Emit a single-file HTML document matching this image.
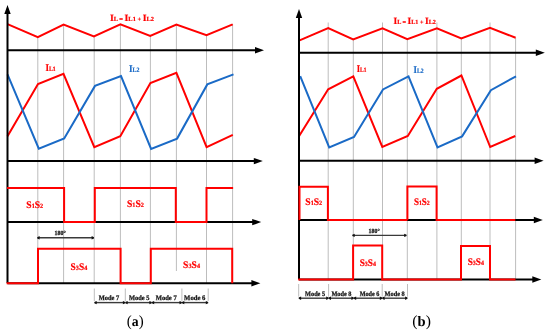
<!DOCTYPE html>
<html><head><meta charset="utf-8"><style>
html,body{margin:0;padding:0;background:#fff;}
svg{display:block;}
text{font-family:"Liberation Serif",serif;font-weight:bold;text-rendering:geometricPrecision;}
</style></head><body>
<svg width="550" height="333" viewBox="0 0 550 333">
<rect width="550" height="333" fill="#fff"/>
<line x1="37.8" y1="37.0" x2="37.8" y2="283" stroke="#bdbdbd" stroke-width="1"/>
<line x1="63.6" y1="24.0" x2="63.6" y2="283" stroke="#bdbdbd" stroke-width="1"/>
<line x1="94.2" y1="36.4" x2="94.2" y2="283" stroke="#bdbdbd" stroke-width="1"/>
<line x1="120.4" y1="24.0" x2="120.4" y2="283" stroke="#bdbdbd" stroke-width="1"/>
<line x1="150.4" y1="36.0" x2="150.4" y2="283" stroke="#bdbdbd" stroke-width="1"/>
<line x1="176.4" y1="24.0" x2="176.4" y2="271" stroke="#bdbdbd" stroke-width="1"/>
<line x1="206.5" y1="35.2" x2="206.5" y2="283" stroke="#bdbdbd" stroke-width="1"/>
<line x1="232.6" y1="24.0" x2="232.6" y2="283" stroke="#bdbdbd" stroke-width="1"/>
<polyline points="7.5,24.1 37.8,37.2 63.6,24.6 93.9,36.4 120.4,24.3 150.2,36.0 176.4,24.5 206.5,35.2 232.7,24.4" fill="none" stroke="#ff0000" stroke-width="2" stroke-linejoin="miter" />
<polyline points="7.5,136.2 38.0,84.0 63.5,73.9 94.3,147.2 120.3,136.2 150.4,83.0 176.4,72.8 206.6,147.2 232.8,134.8" fill="none" stroke="#ff0000" stroke-width="2" stroke-linejoin="miter" />
<polyline points="7.5,74.3 38.8,148.6 64.2,138.4 95.0,85.9 121.0,76.0 151.1,149.0 177.1,138.6 207.3,84.4 233.5,74.4" fill="none" stroke="#1a6ac6" stroke-width="2" stroke-linejoin="miter" />
<line x1="7.5" y1="283.0" x2="7.5" y2="12.9" stroke="#000" stroke-width="2"/><polygon points="4.3,13.9 7.5,4.9 10.7,13.9" fill="#000"/>
<line x1="7.5" y1="50.2" x2="256.0" y2="50.2" stroke="#000" stroke-width="2"/><polygon points="255.0,47.0 264.0,50.2 255.0,53.4" fill="#000"/>
<line x1="7.5" y1="161.1" x2="254.8" y2="161.1" stroke="#000" stroke-width="2"/><polygon points="253.8,157.9 262.8,161.1 253.8,164.3" fill="#000"/>
<line x1="7.5" y1="222.1" x2="253.2" y2="222.1" stroke="#000" stroke-width="2"/><polygon points="252.2,218.9 261.2,222.1 252.2,225.3" fill="#000"/>
<line x1="7.5" y1="283.2" x2="252.4" y2="283.2" stroke="#000" stroke-width="2"/><polygon points="251.4,280.0 260.4,283.2 251.4,286.4" fill="#000"/>
<polyline points="7.0,188.1 64.1,188.1 64.1,222.0 94.8,222.0 94.8,188.1 175.8,188.1 175.8,222.0 206.5,222.0 206.5,188.1 233.1,188.1" fill="none" stroke="#ff0000" stroke-width="2" stroke-linejoin="miter" />
<polyline points="6.6,283.3 38.0,283.3 38.0,248.7 120.6,248.7 120.6,283.3 150.8,283.3 150.8,248.7 232.2,248.7 232.2,283.3" fill="none" stroke="#ff0000" stroke-width="2" stroke-linejoin="miter" />
<text x="109.9" y="20.7" fill="#ff0000" stroke="#ff0000" stroke-width="0.2" font-size="9.5" textLength="44.2" lengthAdjust="spacingAndGlyphs">I<tspan font-size="6.2">L = </tspan>I<tspan font-size="6.2">L1 + </tspan>I<tspan font-size="6.2">L2</tspan></text>
<text x="45.4" y="71.0" fill="#ff0000" stroke="#ff0000" stroke-width="0.2" font-size="10.2" textLength="10.3" lengthAdjust="spacingAndGlyphs">I<tspan font-size="6.6">L1</tspan></text>
<text x="129.0" y="71.5" fill="#1a6ac6" stroke="#1a6ac6" stroke-width="0.2" font-size="10.2" textLength="10.4" lengthAdjust="spacingAndGlyphs">I<tspan font-size="6.6">L2</tspan></text>
<text x="26.3" y="207.5" fill="#ff0000" stroke="#ff0000" stroke-width="0.2" font-size="10" textLength="16.9" lengthAdjust="spacingAndGlyphs">S<tspan font-size="6.5">1</tspan>S<tspan font-size="6.5">2</tspan></text>
<text x="126.9" y="207.0" fill="#ff0000" stroke="#ff0000" stroke-width="0.2" font-size="10" textLength="17.0" lengthAdjust="spacingAndGlyphs">S<tspan font-size="6.5">1</tspan>S<tspan font-size="6.5">2</tspan></text>
<text x="70.6" y="270.0" fill="#ff0000" stroke="#ff0000" stroke-width="0.2" font-size="10" textLength="16.6" lengthAdjust="spacingAndGlyphs">S<tspan font-size="6.5">3</tspan>S<tspan font-size="6.5">4</tspan></text>
<text x="183.1" y="268.0" fill="#ff0000" stroke="#ff0000" stroke-width="0.2" font-size="10" textLength="16.9" lengthAdjust="spacingAndGlyphs">S<tspan font-size="6.5">3</tspan>S<tspan font-size="6.5">4</tspan></text>
<text x="54.6" y="234.9" fill="#111" stroke="#111" stroke-width="0.25" font-size="6.4" textLength="11.2" lengthAdjust="spacingAndGlyphs">180°</text>
<line x1="38.2" y1="237.8" x2="93.0" y2="237.8" stroke="#3a3a3a" stroke-width="1.4"/><polygon points="37.2,237.2 39.6,236.1 39.6,239.5 37.2,238.4" fill="#111"/><polygon points="94.0,237.2 91.6,236.1 91.6,239.5 94.0,238.4" fill="#111"/>
<line x1="94.3" y1="288.5" x2="94.3" y2="301.0" stroke="#bdbdbd" stroke-width="1"/>
<line x1="125.3" y1="288.5" x2="125.3" y2="301.0" stroke="#bdbdbd" stroke-width="1"/>
<line x1="181.9" y1="288.5" x2="181.9" y2="301.0" stroke="#bdbdbd" stroke-width="1"/>
<line x1="208.2" y1="288.5" x2="208.2" y2="301.0" stroke="#bdbdbd" stroke-width="1"/>
<line x1="95.3" y1="302.6" x2="124.3" y2="302.6" stroke="#3a3a3a" stroke-width="1.4"/><polygon points="94.3,302.0 96.7,300.9 96.7,304.3 94.3,303.2" fill="#111"/><polygon points="125.3,302.0 122.9,300.9 122.9,304.3 125.3,303.2" fill="#111"/>
<text x="98.7" y="300.2" fill="#111" stroke="#111" stroke-width="0.25" font-size="6.9" textLength="20.4" lengthAdjust="spacingAndGlyphs">Mode 7</text>
<line x1="126.3" y1="302.6" x2="150.8" y2="302.6" stroke="#3a3a3a" stroke-width="1.4"/><polygon points="125.3,302.0 127.7,300.9 127.7,304.3 125.3,303.2" fill="#111"/><polygon points="151.8,302.0 149.4,300.9 149.4,304.3 151.8,303.2" fill="#111"/>
<text x="128.9" y="300.2" fill="#111" stroke="#111" stroke-width="0.25" font-size="6.9" textLength="20.5" lengthAdjust="spacingAndGlyphs">Mode 5</text>
<line x1="152.8" y1="302.6" x2="180.9" y2="302.6" stroke="#3a3a3a" stroke-width="1.4"/><polygon points="151.8,302.0 154.2,300.9 154.2,304.3 151.8,303.2" fill="#111"/><polygon points="181.9,302.0 179.5,300.9 179.5,304.3 181.9,303.2" fill="#111"/>
<text x="155.7" y="300.2" fill="#111" stroke="#111" stroke-width="0.25" font-size="6.9" textLength="21.0" lengthAdjust="spacingAndGlyphs">Mode 7</text>
<line x1="182.9" y1="302.6" x2="207.2" y2="302.6" stroke="#3a3a3a" stroke-width="1.4"/><polygon points="181.9,302.0 184.3,300.9 184.3,304.3 181.9,303.2" fill="#111"/><polygon points="208.2,302.0 205.8,300.9 205.8,304.3 208.2,303.2" fill="#111"/>
<text x="184.1" y="300.2" fill="#111" stroke="#111" stroke-width="0.25" font-size="6.9" textLength="21.3" lengthAdjust="spacingAndGlyphs">Mode 6</text>
<line x1="328.2" y1="22.5" x2="328.2" y2="279.5" stroke="#bdbdbd" stroke-width="1"/>
<line x1="353.3" y1="39.3" x2="353.3" y2="279.5" stroke="#bdbdbd" stroke-width="1"/>
<line x1="382.5" y1="22.5" x2="382.5" y2="279.5" stroke="#bdbdbd" stroke-width="1"/>
<line x1="407.3" y1="39.1" x2="407.3" y2="279.5" stroke="#bdbdbd" stroke-width="1"/>
<line x1="436.9" y1="22.5" x2="436.9" y2="279.5" stroke="#bdbdbd" stroke-width="1"/>
<line x1="461.3" y1="38.5" x2="461.3" y2="279.5" stroke="#bdbdbd" stroke-width="1"/>
<line x1="490.0" y1="22.5" x2="490.0" y2="279.5" stroke="#bdbdbd" stroke-width="1"/>
<line x1="515.6" y1="37.7" x2="515.6" y2="279.5" stroke="#bdbdbd" stroke-width="1"/>
<polyline points="299.0,40.6 328.2,28.1 353.2,39.5 382.5,28.3 407.3,39.1 436.9,28.3 461.3,38.5 490.0,27.9 515.6,37.7" fill="none" stroke="#ff0000" stroke-width="2" stroke-linejoin="miter" />
<polyline points="299.0,136.2 328.2,89.3 353.3,76.4 382.3,147.0 407.8,136.0 436.8,88.8 461.4,75.5 490.2,147.0 515.3,136.0" fill="none" stroke="#ff0000" stroke-width="2" stroke-linejoin="miter" />
<polyline points="300.2,76.1 329.2,147.4 354.0,137.0 383.0,89.4 408.5,76.4 437.5,147.4 462.1,136.4 490.9,90.2 516.0,76.3" fill="none" stroke="#1a6ac6" stroke-width="2" stroke-linejoin="miter" />
<line x1="299.0" y1="279.2" x2="299.0" y2="17.0" stroke="#000" stroke-width="2"/><polygon points="295.8,18.0 299.0,9.0 302.2,18.0" fill="#000"/>
<line x1="299.0" y1="52.8" x2="536.8" y2="52.8" stroke="#000" stroke-width="2"/><polygon points="535.8,49.6 544.8,52.8 535.8,56.0" fill="#000"/>
<line x1="299.0" y1="160.8" x2="535.6" y2="160.8" stroke="#000" stroke-width="2"/><polygon points="534.6,157.6 543.6,160.8 534.6,164.0" fill="#000"/>
<line x1="299.0" y1="220.0" x2="534.8" y2="220.0" stroke="#000" stroke-width="2"/><polygon points="533.8,216.8 542.8,220.0 533.8,223.2" fill="#000"/>
<line x1="299.0" y1="279.5" x2="533.3" y2="279.5" stroke="#000" stroke-width="2"/><polygon points="532.3,276.3 541.3,279.5 532.3,282.7" fill="#000"/>
<polyline points="299.5,219.9 299.5,186.7 327.9,186.7 327.9,219.9 407.4,219.9" fill="none" stroke="#ff0000" stroke-width="2" stroke-linejoin="miter" />
<polyline points="407.4,219.9 407.4,186.5 436.6,186.5 436.6,219.9 515.3,219.9" fill="none" stroke="#ff0000" stroke-width="2" stroke-linejoin="miter" />
<polyline points="298.2,279.5 353.1,279.5 353.1,245.5 382.2,245.5 382.2,279.5 461.0,279.5 461.0,245.9 490.0,245.9 490.0,279.5 515.5,279.5" fill="none" stroke="#ff0000" stroke-width="2" stroke-linejoin="miter" />
<text x="393.6" y="24.3" fill="#ff0000" stroke="#ff0000" stroke-width="0.2" font-size="9.5" textLength="42.2" lengthAdjust="spacingAndGlyphs">I<tspan font-size="6.2">L = </tspan>I<tspan font-size="6.2">L1 + </tspan>I<tspan font-size="6.2">L2</tspan></text>
<text x="356.8" y="71.6" fill="#ff0000" stroke="#ff0000" stroke-width="0.2" font-size="10.2" textLength="9.7" lengthAdjust="spacingAndGlyphs">I<tspan font-size="6.6">L1</tspan></text>
<text x="413.5" y="73.1" fill="#1a6ac6" stroke="#1a6ac6" stroke-width="0.2" font-size="10.2" textLength="10.0" lengthAdjust="spacingAndGlyphs">I<tspan font-size="6.6">L2</tspan></text>
<text x="305.3" y="205.0" fill="#ff0000" stroke="#ff0000" stroke-width="0.2" font-size="10" textLength="16.9" lengthAdjust="spacingAndGlyphs">S<tspan font-size="6.5">1</tspan>S<tspan font-size="6.5">2</tspan></text>
<text x="413.9" y="205.0" fill="#ff0000" stroke="#ff0000" stroke-width="0.2" font-size="10" textLength="15.9" lengthAdjust="spacingAndGlyphs">S<tspan font-size="6.5">1</tspan>S<tspan font-size="6.5">2</tspan></text>
<text x="359.7" y="266.3" fill="#ff0000" stroke="#ff0000" stroke-width="0.2" font-size="10" textLength="16.3" lengthAdjust="spacingAndGlyphs">S<tspan font-size="6.5">3</tspan>S<tspan font-size="6.5">4</tspan></text>
<text x="467.7" y="265.0" fill="#ff0000" stroke="#ff0000" stroke-width="0.2" font-size="10" textLength="16.3" lengthAdjust="spacingAndGlyphs">S<tspan font-size="6.5">3</tspan>S<tspan font-size="6.5">4</tspan></text>
<text x="368.6" y="232.5" fill="#111" stroke="#111" stroke-width="0.25" font-size="6.4" textLength="11.2" lengthAdjust="spacingAndGlyphs">180°</text>
<line x1="353.3" y1="235.4" x2="405.6" y2="235.4" stroke="#3a3a3a" stroke-width="1.4"/><polygon points="352.3,234.8 354.7,233.7 354.7,237.1 352.3,236.0" fill="#111"/><polygon points="406.6,234.8 404.2,233.7 404.2,237.1 406.6,236.0" fill="#111"/>
<line x1="298.7" y1="284.0" x2="298.7" y2="296.6" stroke="#bdbdbd" stroke-width="1"/>
<line x1="328.6" y1="284.0" x2="328.6" y2="296.6" stroke="#bdbdbd" stroke-width="1"/>
<line x1="382.2" y1="284.0" x2="382.2" y2="296.6" stroke="#bdbdbd" stroke-width="1"/>
<line x1="407.5" y1="284.0" x2="407.5" y2="296.6" stroke="#bdbdbd" stroke-width="1"/>
<line x1="299.7" y1="298.2" x2="327.6" y2="298.2" stroke="#3a3a3a" stroke-width="1.4"/><polygon points="298.7,297.6 301.1,296.5 301.1,299.9 298.7,298.8" fill="#111"/><polygon points="328.6,297.6 326.2,296.5 326.2,299.9 328.6,298.8" fill="#111"/>
<text x="305.1" y="295.7" fill="#111" stroke="#111" stroke-width="0.25" font-size="6.9" textLength="20.0" lengthAdjust="spacingAndGlyphs">Mode 5</text>
<line x1="329.6" y1="298.2" x2="352.8" y2="298.2" stroke="#3a3a3a" stroke-width="1.4"/><polygon points="328.6,297.6 331.0,296.5 331.0,299.9 328.6,298.8" fill="#111"/><polygon points="353.8,297.6 351.4,296.5 351.4,299.9 353.8,298.8" fill="#111"/>
<text x="331.4" y="295.7" fill="#111" stroke="#111" stroke-width="0.25" font-size="6.9" textLength="20.1" lengthAdjust="spacingAndGlyphs">Mode 8</text>
<line x1="354.8" y1="298.2" x2="381.2" y2="298.2" stroke="#3a3a3a" stroke-width="1.4"/><polygon points="353.8,297.6 356.2,296.5 356.2,299.9 353.8,298.8" fill="#111"/><polygon points="382.2,297.6 379.8,296.5 379.8,299.9 382.2,298.8" fill="#111"/>
<text x="359.7" y="295.7" fill="#111" stroke="#111" stroke-width="0.25" font-size="6.9" textLength="19.7" lengthAdjust="spacingAndGlyphs">Mode 6</text>
<line x1="383.2" y1="298.2" x2="406.5" y2="298.2" stroke="#3a3a3a" stroke-width="1.4"/><polygon points="382.2,297.6 384.6,296.5 384.6,299.9 382.2,298.8" fill="#111"/><polygon points="407.5,297.6 405.1,296.5 405.1,299.9 407.5,298.8" fill="#111"/>
<text x="384.6" y="295.7" fill="#111" stroke="#111" stroke-width="0.25" font-size="6.9" textLength="20.1" lengthAdjust="spacingAndGlyphs">Mode 8</text>
<text x="126.8" y="325.9" fill="#000" font-size="15.5" textLength="16.8" lengthAdjust="spacingAndGlyphs" style="font-weight:normal">(<tspan font-size="14.3" style="font-weight:bold">a</tspan>)</text>
<text x="412.3" y="325.9" fill="#000" font-size="15.5" textLength="18.6" lengthAdjust="spacingAndGlyphs" style="font-weight:normal">(<tspan font-size="14.3" style="font-weight:bold">b</tspan>)</text>
</svg>
</body></html>
